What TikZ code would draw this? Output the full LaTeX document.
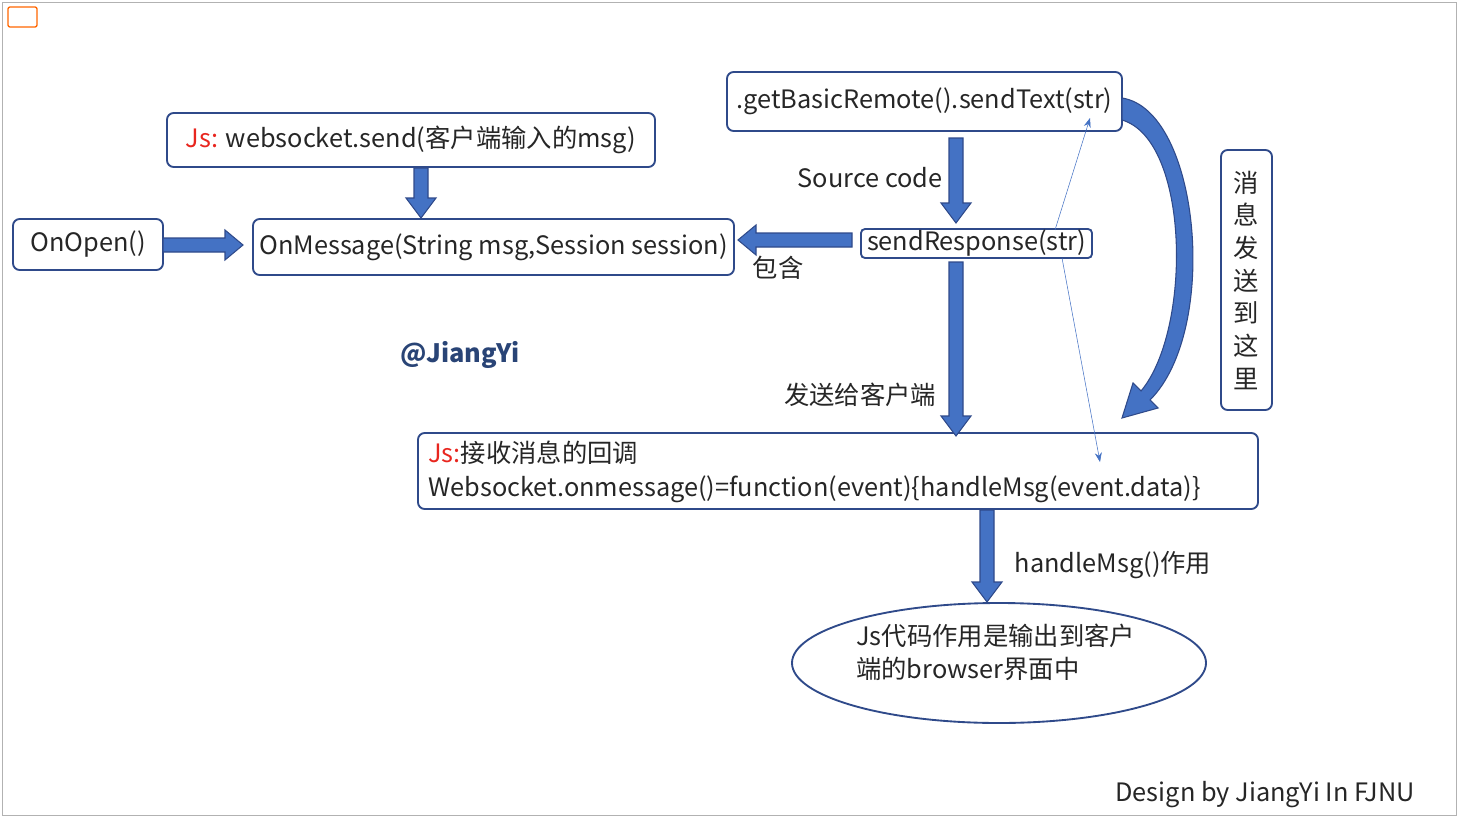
\documentclass[tikz,border=0pt]{standalone}
\usepackage{fontspec}
\setmainfont{Noto Sans CJK SC}
\usetikzlibrary{shapes.geometric,shapes.arrows,arrows.meta}
\definecolor{bord}{HTML}{2F4A8A}
\definecolor{afill}{HTML}{4472C4}
\definecolor{jsred}{HTML}{E8261F}
\begin{document}
\begin{tikzpicture}[x=0.75pt,y=-0.75pt,
  box/.style={draw=bord,line width=1.4pt,rounded corners=5pt,inner sep=0pt},
  txt/.style={font=\fontsize{19}{22}\selectfont,text=black!85,inner sep=0pt},
  barrow/.style={fill=afill,draw=bord,line width=0.8pt}]
\useasboundingbox (0,0) rectangle (1460,817);
\draw[black!30] (2,2) rectangle (1456,815);
% boxes
\node[box,minimum width=395*0.75pt,minimum height=59*0.75pt] (top) at (924.5,101.5) {};
\node[txt] at (top) {.getBasicRemote().sendText(str)};
\node[box,minimum width=488*0.75pt,minimum height=54*0.75pt] (js) at (411,140) {};
\node[txt] at (js) {\textcolor{jsred}{Js:} websocket.send(客户端输入的msg)};
\node[box,minimum width=150*0.75pt,minimum height=51*0.75pt] (open) at (88,244.5) {};
\node[txt] at (open) {OnOpen()};
\node[box,minimum width=481*0.75pt,minimum height=56*0.75pt] (msg) at (493.5,247) {};
\node[txt] at (msg) {OnMessage(String msg,Session session)};
\node[box,rounded corners=3pt,minimum width=231*0.75pt,minimum height=29*0.75pt] (send) at (976.5,243.5) {};
\node[txt] at (send) {sendResponse(str)};
\node[box,minimum width=51*0.75pt,minimum height=260*0.75pt] (vert) at (1246.5,280) {};
\node[txt,align=center,font=\fontsize{19}{24.5}\selectfont] at (vert) {消\\息\\发\\送\\到\\这\\里};
\node[box,minimum width=840*0.75pt,minimum height=76*0.75pt] (big) at (838,471) {};
\node[txt,anchor=west,align=left,font=\fontsize{19}{25}\selectfont] at (428,472) {\textcolor{jsred}{Js:}接收消息的回调\\Websocket.onmessage()=function(event)\{handleMsg(event.data)\}};
\node[ellipse,draw=bord,line width=1.4pt,minimum width=414*0.75pt,minimum height=120*0.75pt] (ell) at (999,663) {};
\node[txt,anchor=west,align=left,font=\fontsize{19}{25}\selectfont] at (856,652) {Js代码作用是输出到客户\\端的browser界面中};
% block arrows
\def\darrow#1#2#3{\draw[barrow] (#1-7,#2) -- (#1+7,#2) -- (#1+7,#3-20) -- (#1+15,#3-20) -- (#1,#3) -- (#1-15,#3-20) -- (#1-7,#3-20) -- cycle;}
\darrow{421}{168}{218}
\darrow{956}{138}{223}
\darrow{956}{262}{436}
\darrow{987}{510}{602}
\draw[barrow] (163,238) -- (225,238) -- (225,230) -- (243,245) -- (225,260) -- (225,252) -- (163,252) -- cycle;
\draw[barrow] (852,233) -- (756,233) -- (756,225) -- (738,240) -- (756,255) -- (756,247) -- (852,247) -- cycle;
% curved arrow
\draw[barrow] (1122,98) .. controls (1200,110) and (1220,330) .. (1150,400) -- (1158,408) -- (1122,418) -- (1133,383) -- (1141,391)
  .. controls (1192,330) and (1190,140) .. (1122,120) -- cycle;
% thin arrows
\draw[afill,-{Stealth[length=7pt]}] (1055,230) -- (1090,118);
\draw[afill,-{Stealth[length=7pt]}] (1062,258) -- (1100,462);
% labels
\node[txt] (l1) at (870,178) {Source code};
\node[txt] (l2) at (778,268) {包含};
\node[txt] (l3) at (860,395) {发送给客户端};
\node[txt] (l4) at (1113,565) {handleMsg()作用};
\node[txt,font=\bfseries\fontsize{19}{22}\selectfont,text=afill!60!black] (l5) at (460,355) {@JiangYi};
\node[txt] (l6) at (1265,795) {Design by JiangYi In FJNU};
% comment icon
\draw[orange!80!red,line width=1pt,rounded corners=1.5pt] (8,7) rectangle (37,27);
\end{tikzpicture}
\end{document}
